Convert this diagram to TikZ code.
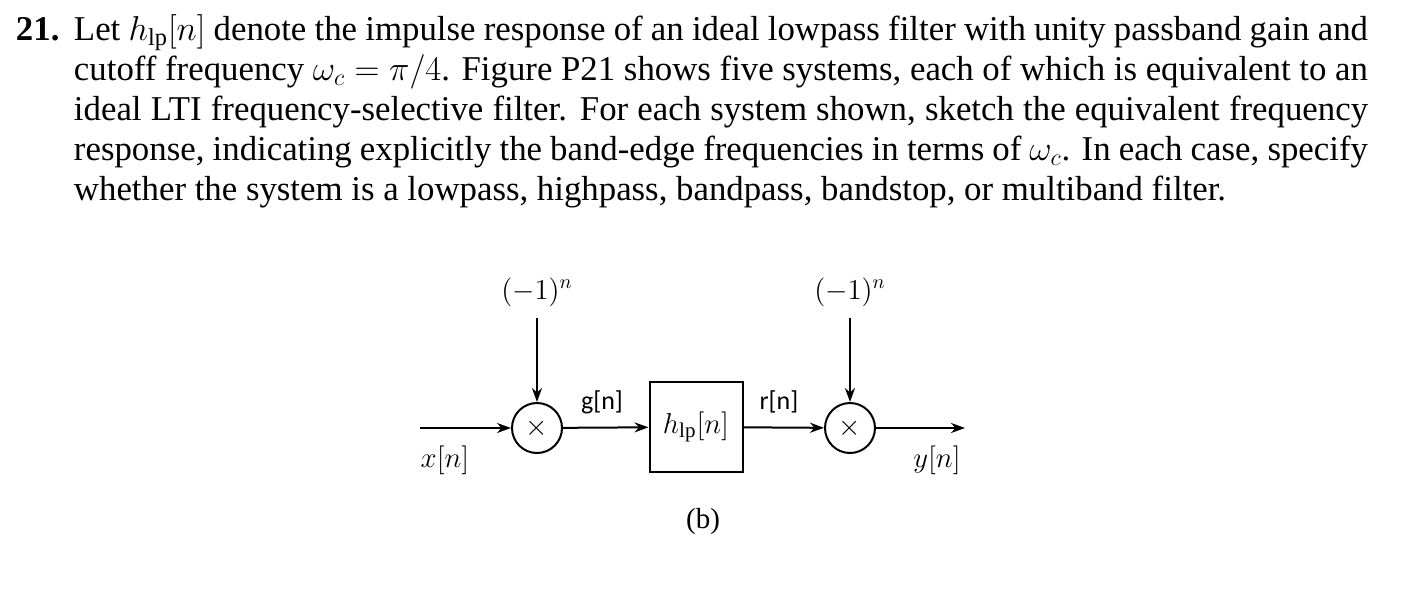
\documentclass[tikz,border=0pt]{standalone}
\usepackage{fontspec}
\setmainfont{Liberation Serif}
\newfontfamily\lblfont{Carlito}
\usetikzlibrary{arrows.meta,positioning}
\tikzset{every picture/.style={line width=1pt}}
\begin{document}
\begin{tikzpicture}[x=0.5pt,y=0.5pt,yscale=-1,
  txt/.style={anchor=base west,inner sep=0pt,font=\fontsize{17.4}{20}\selectfont},
  lbl/.style={inner sep=0pt,font=\fontsize{14.5}{17}\selectfont},
  sig/.style={inner sep=0pt,font=\lblfont\fontsize{13}{15}\selectfont},
  mult/.style={draw,circle,minimum size=25pt,inner sep=0pt,font=\Large},
  flt/.style={draw,minimum width=46.5pt,minimum height=45pt,inner sep=0pt,font=\fontsize{15}{18}\selectfont},
  arr/.style={-{Stealth[length=7pt,width=5pt]}}]
	\useasboundingbox (0,0) rectangle (1405,590);

	% Text Nodes
	\node[txt] (num) at (15,40) {\textbf{21.}};
	\node[txt] (l1) at (73,40) {\makebox[647pt][s]{Let $h_{\mathrm{lp}}[n]$ denote the impulse response of an ideal lowpass filter with unity passband gain and}};
	\node[txt] (l2) at (73,80) {\makebox[647pt][s]{cutoff frequency $\omega_c=\pi/4$. Figure P21 shows five systems, each of which is equivalent to an}};
	\node[txt] (l3) at (73,120) {\makebox[647pt][s]{ideal LTI frequency-selective filter. For each system shown, sketch the equivalent frequency}};
	\node[txt] (l4) at (73,160) {\makebox[647pt][s]{response, indicating explicitly the band-edge frequencies in terms of $\omega_c$. In each case, specify}};
	\node[txt] (l5) at (73,200) {whether the system is a lowpass, highpass, bandpass, bandstop, or multiband filter.};

	% Blocks
	\coordinate (in) at (420,428);
	\node[mult] (m1) at (537,428) {$\times$};
	\node[flt] (h) at (696,427) {$h_{\mathrm{lp}}[n]$};
	\node[mult] (m2) at (850,428) {$\times$};
	\coordinate (out) at (965,428);
	\coordinate (s1) at (537,318);
	\coordinate (s2) at (850,318);

	% Connectors
	\draw[arr] (in) -- (m1);
	\draw[arr] (m1) -- (h);
	\draw[arr] (h) -- (m2);
	\draw[arr] (m2) -- (out);
	\draw[arr] (s1) -- (m1);
	\draw[arr] (s2) -- (m2);

	% Labels
	\node[lbl] (p1) at (537,292) {$(-1)^n$};
	\node[lbl] (p2) at (850,292) {$(-1)^n$};
	\node[lbl] (x) at (445,460) {$x[n]$};
	\node[lbl] (y) at (937,460) {$y[n]$};
	\node[sig] (g) at (602,402) {g[n]};
	\node[sig] (r) at (779,402) {r[n]};
	\node[lbl] (b) at (703,522) {(b)};
\end{tikzpicture}
\end{document}
